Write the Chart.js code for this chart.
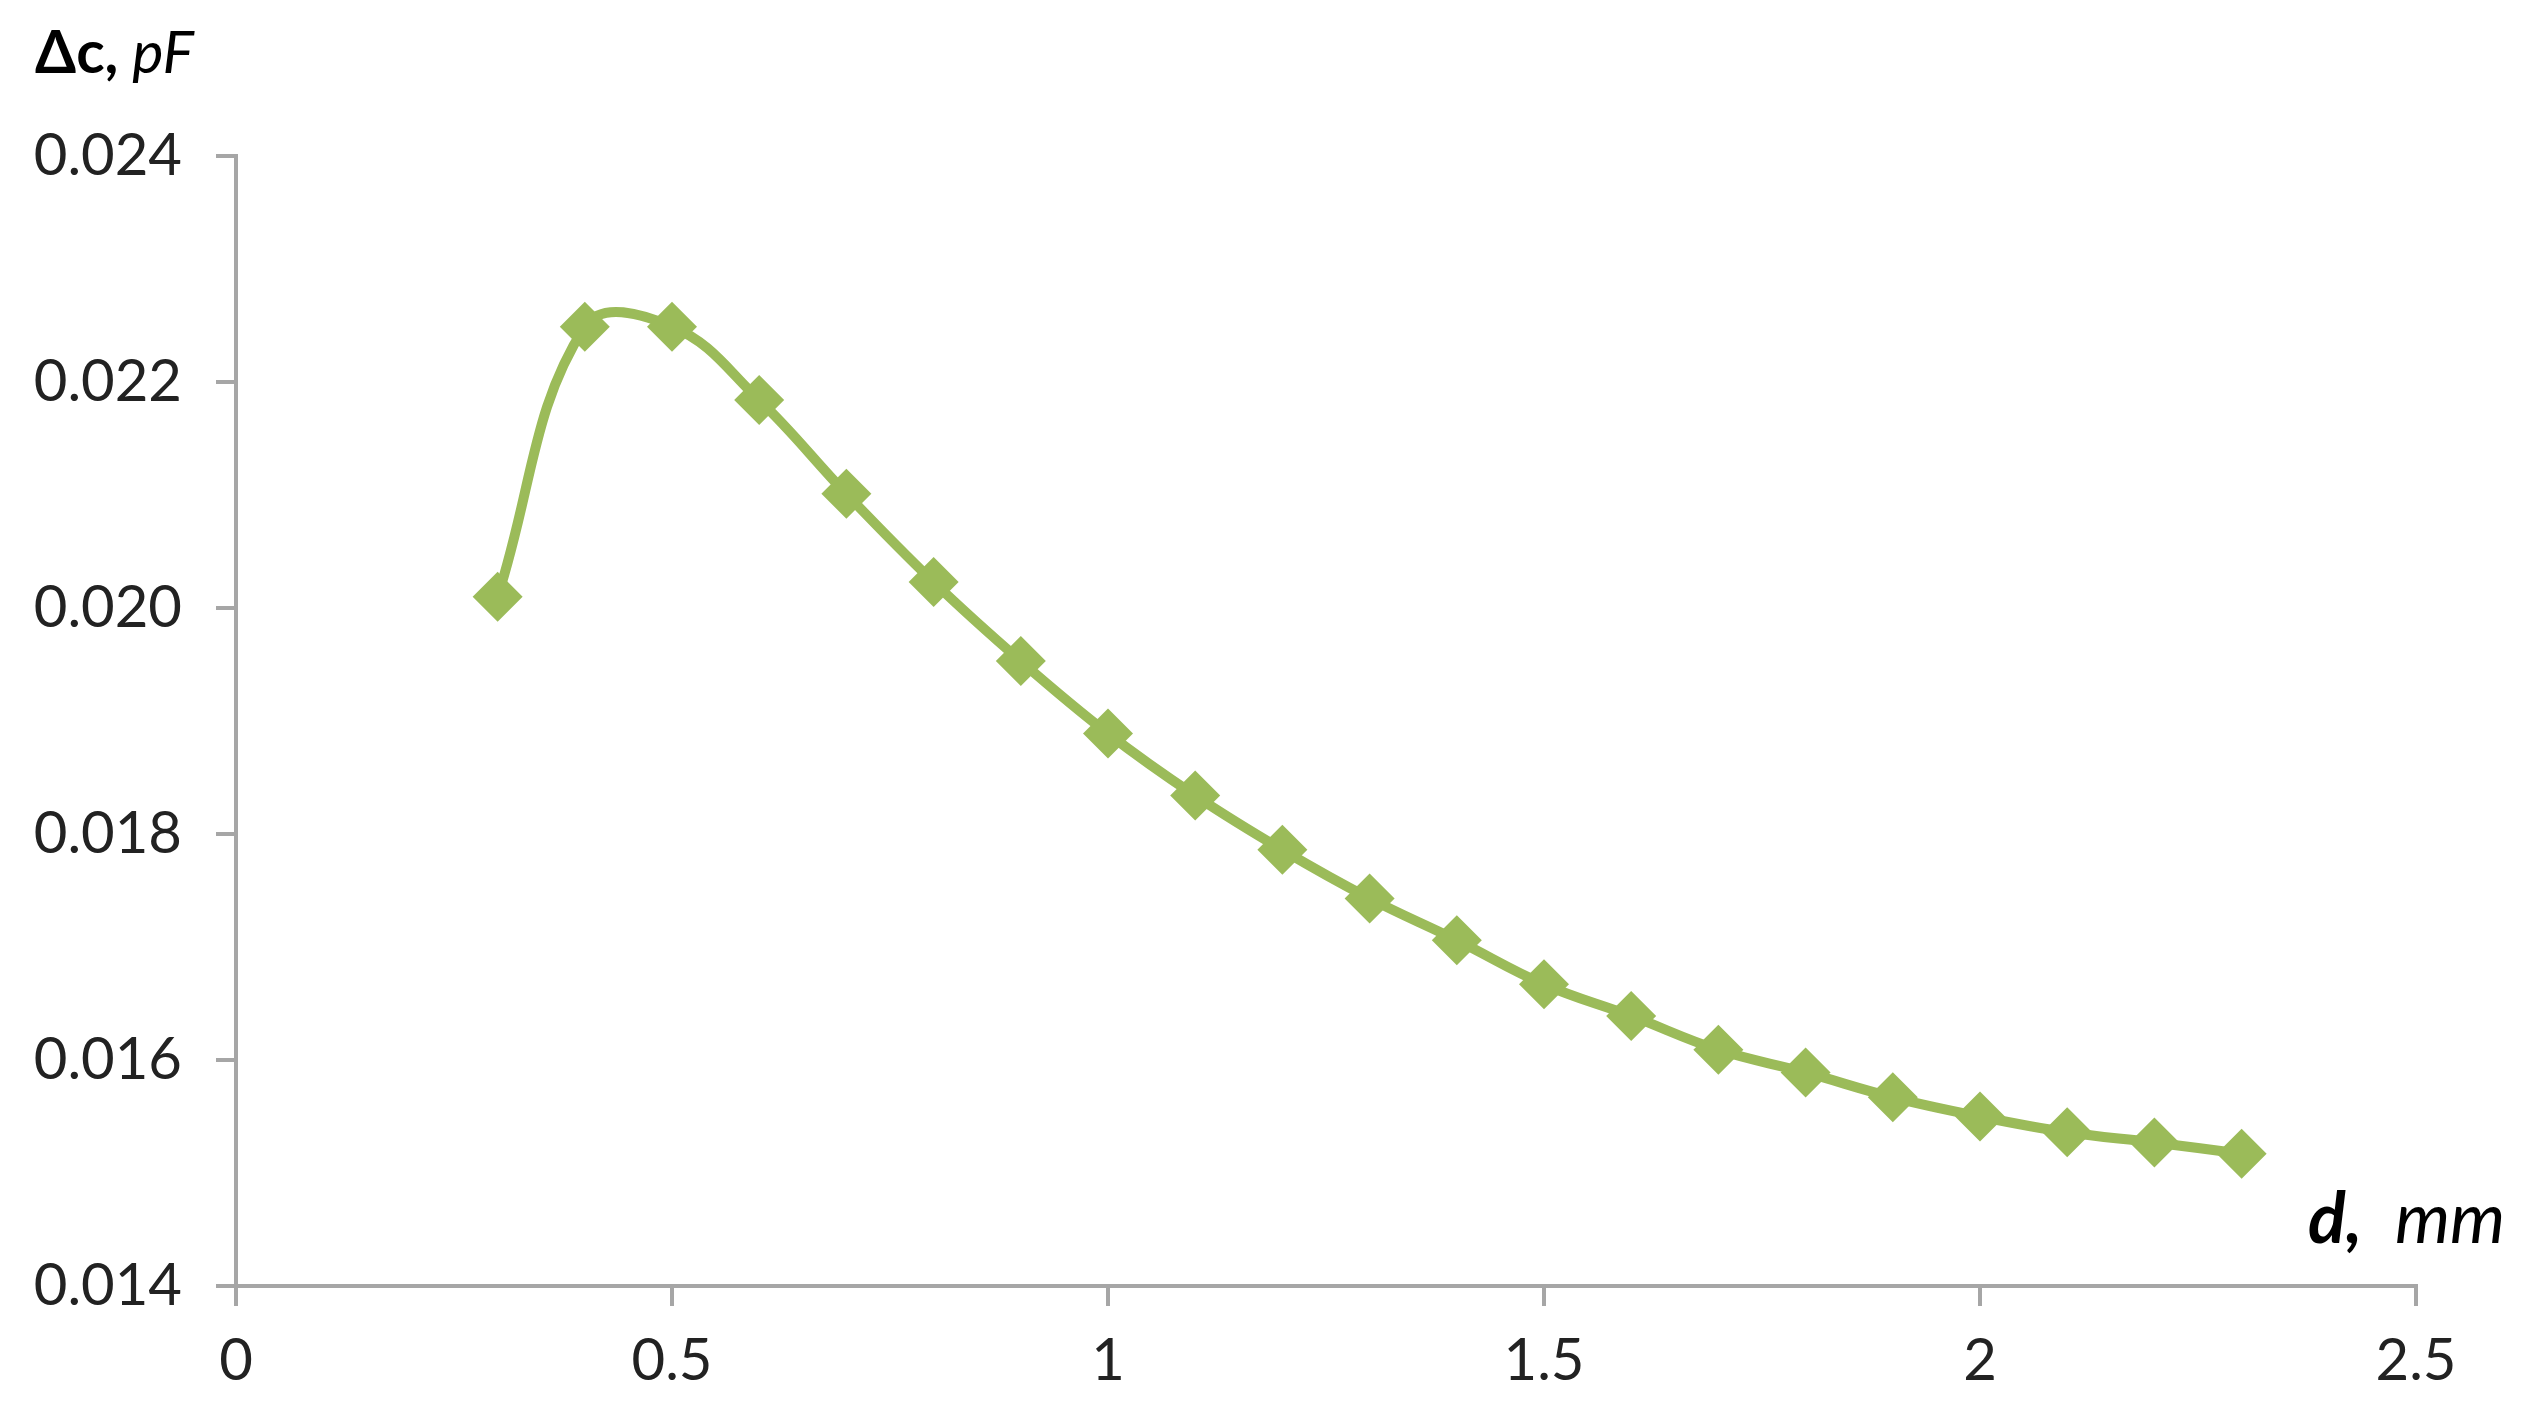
<!DOCTYPE html>
<html>
<head>
<meta charset="utf-8">
<script src="https://cdn.jsdelivr.net/npm/chart.js@4.4.1/dist/chart.umd.min.js"></script>
<style>
  html, body { margin: 0; padding: 0; background: #ffffff; }
  canvas { display: block; }
</style>
</head>
<body>
<canvas id="c" width="2531" height="1423"></canvas>
<script>
// Data
const dValues = [0.3, 0.4, 0.5, 0.6, 0.7, 0.8, 0.9, 1.0, 1.1, 1.2, 1.3, 1.4, 1.5, 1.6, 1.7, 1.8, 1.9, 2.0, 2.1, 2.2, 2.3];
const deltaC = [0.02010, 0.02249, 0.02249, 0.02184, 0.02101, 0.02023, 0.01953, 0.01889, 0.01834, 0.01786, 0.01743, 0.01706, 0.01667, 0.01639, 0.01609, 0.01589, 0.01567, 0.01550, 0.01536, 0.01527, 0.01517];
const xTickValues = [0, 0.5, 1, 1.5, 2, 2.5];
const yTickValues = [0.014, 0.016, 0.018, 0.020, 0.022, 0.024];
const yTitleParts = ['Δc,', ' pF'];
const xTitleParts = ['d,', '  mm'];

const points = dValues.map((d, i) => ({ x: d, y: deltaC[i] }));
const green = '#9bbb59';
const axisGray = '#a6a6a6';
const FONT = 'Lato, "Open Sans", sans-serif';

const titlePlugin = {
  id: 'axisTitles',
  afterDraw(chart) {
    const ctx = chart.ctx;
    const area = chart.chartArea;
    ctx.save();
    ctx.fillStyle = '#000000';
    ctx.textBaseline = 'alphabetic';
    ctx.textAlign = 'left';
    // y-axis title, top-left
    let x = 35, y = 73;
    ctx.font = 'bold 59px ' + FONT;
    ctx.fillText(yTitleParts[0], x, y);
    x += ctx.measureText(yTitleParts[0]).width;
    ctx.font = 'italic 59px ' + FONT;
    ctx.fillText(yTitleParts[1], x, y);
    // x-axis title, right above axis
    x = area.right - 108; y = area.bottom - 43;
    ctx.font = 'bold italic 70px ' + FONT;
    ctx.fillText(xTitleParts[0], x, y);
    x += ctx.measureText(xTitleParts[0]).width;
    ctx.font = 'italic 70px ' + FONT;
    ctx.fillText(xTitleParts[1], x, y);
    ctx.restore();
  }
};

new Chart(document.getElementById('c'), {
  type: 'line',
  data: {
    datasets: [{
      data: points,
      borderColor: green,
      backgroundColor: green,
      borderWidth: 10,
      tension: 0.4,
      pointStyle: 'rectRot',
      pointRadius: 25,
      pointBorderWidth: 0,
      pointBackgroundColor: green,
      fill: false,
      clip: false
    }]
  },
  options: {
    responsive: false,
    animation: false,
    events: [],
    layout: { padding: { top: 156, right: 115, left: 0, bottom: 0 } },
    plugins: { legend: { display: false }, tooltip: { enabled: false }, title: { display: false } },
    scales: {
      x: {
        type: 'linear',
        min: 0, max: 2.5,
        afterFit(scale) { scale.height = 137; },
        afterBuildTicks(scale) { scale.ticks = xTickValues.map(v => ({ value: v })); },
        ticks: {
          callback: v => String(v),
          font: { family: FONT, size: 58 },
          color: '#222222',
          padding: 20,
          maxRotation: 0,
          autoSkip: false
        },
        grid: { drawOnChartArea: false, drawTicks: true, tickLength: 20, color: axisGray, lineWidth: 4 },
        border: { display: true, color: axisGray, width: 4 }
      },
      y: {
        type: 'linear',
        min: 0.014, max: 0.024,
        afterFit(scale) { scale.width = 236; },
        afterBuildTicks(scale) { scale.ticks = yTickValues.map(v => ({ value: v })); },
        ticks: {
          callback: v => Number(v).toFixed(3),
          font: { family: FONT, size: 58 },
          color: '#222222',
          padding: 34,
          autoSkip: false
        },
        grid: { drawOnChartArea: false, drawTicks: true, tickLength: 20, color: axisGray, lineWidth: 4 },
        border: { display: true, color: axisGray, width: 4 }
      }
    }
  },
  plugins: [titlePlugin]
});
</script>
</body>
</html>
